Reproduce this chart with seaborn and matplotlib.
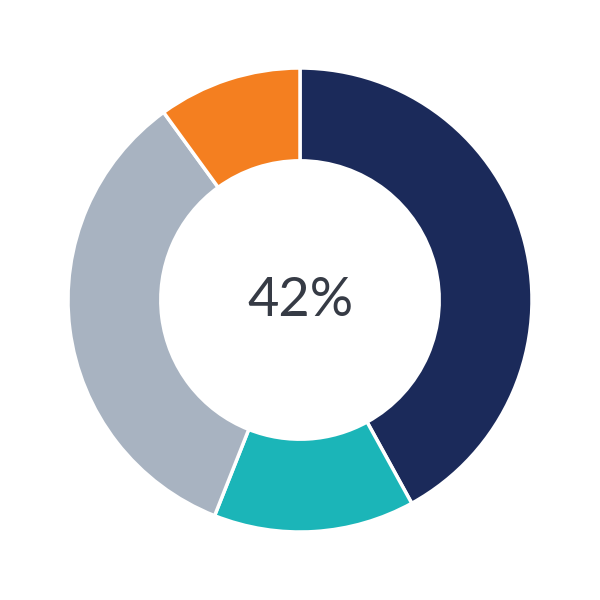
import matplotlib
matplotlib.use("Agg")
import matplotlib.pyplot as plt
import seaborn as sns

sns.set_theme(style="white")
plt.rcParams['font.family'] = ['Lato', 'DejaVu Sans']

labels = ["Navy", "Teal", "Gray", "Orange"]
values = [42, 14, 34, 10]
colors = ["#1b2a5a", "#1bb5b8", "#a8b3c1", "#f47f20"]
center_label = "42%"

fig = plt.figure(figsize=(6, 6), dpi=100)
ax = fig.add_axes([0, 0, 1, 1])
ax.pie(values, colors=colors, startangle=90, counterclock=False,
       radius=1.0,
       wedgeprops=dict(width=0.4, edgecolor="white", linewidth=2.5))
ax.text(0, 0, center_label, ha="center", va="center", fontsize=39,
        color="#363b45")
lim = 300 / 232
ax.set_xlim(-lim, lim)
ax.set_ylim(-lim, lim)
ax.set_aspect("equal")
ax.axis("off")
fig.savefig("out.png", dpi=100, facecolor="white")
